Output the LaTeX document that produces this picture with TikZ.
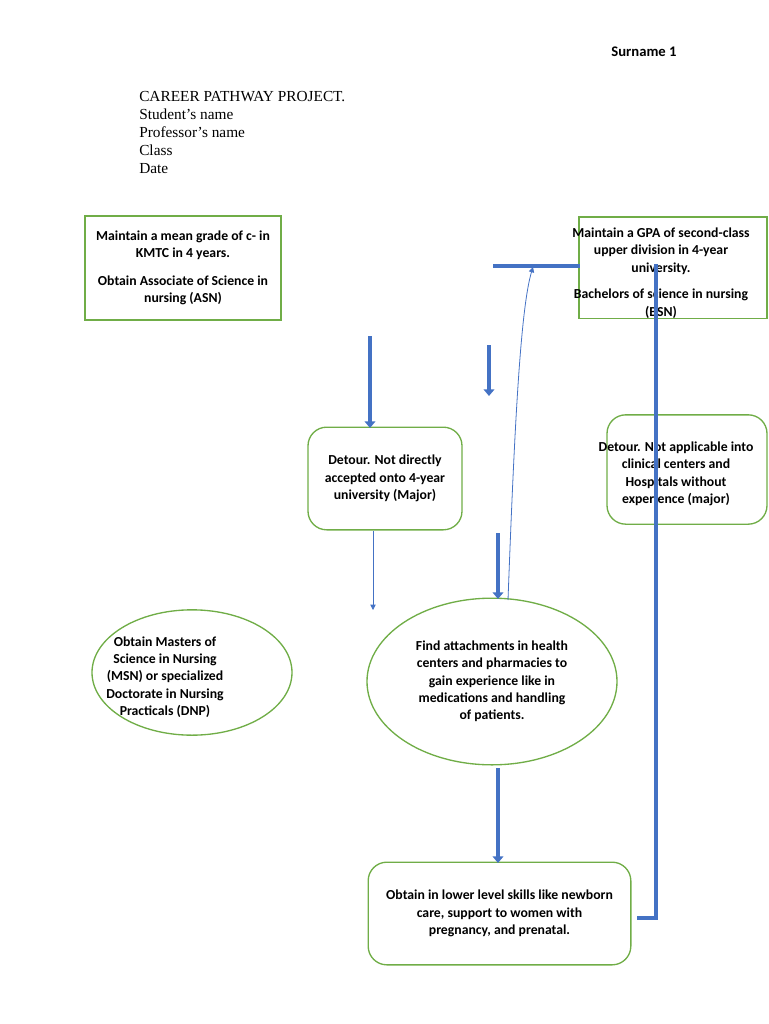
\documentclass[tikz,border=0pt]{standalone}
\usepackage{fontspec}
\setmainfont{Liberation Serif}
\newfontfamily\calibri{Carlito}
\usetikzlibrary{positioning}
\usetikzlibrary{shapes.geometric}
\usetikzlibrary{arrows.meta}
\definecolor{boxgreen}{RGB}{112,173,71}
\definecolor{arrowblue}{RGB}{68,114,196}

\begin{document}
\begin{tikzpicture}[x=0.75pt, y=-0.75pt,
  caja/.style={draw=boxgreen, line width=1pt, inner sep=0pt},
  redonda/.style={caja, rounded corners=14pt},
  elipse/.style={caja, ellipse},
  texto/.style={font=\calibri\bfseries\fontsize{10.3}{13}\selectfont, align=center, inner sep=0pt},
  gruesa/.style={draw=arrowblue, line width=3pt, -{Triangle[width=8pt,length=5pt]}},
  fina/.style={draw=arrowblue, line width=0.6pt, -{Triangle[width=4pt,length=4pt]}},
  barra/.style={draw=arrowblue, line width=3pt}]
            \useasboundingbox (0,0) rectangle (768,1024);
            % Nodos
            \node[font=\calibri\bfseries\fontsize{11}{13}\selectfont] (pagina) at (644,52) {Surname 1};
            \node[font=\fontsize{11.5}{13.5}\selectfont, align=left, anchor=north west, inner sep=0pt] (cabecera) at (139,91) {CAREER PATHWAY PROJECT.\\Student's name\\Professor's name\\Class\\Date};
            \node[caja, minimum width=147pt, minimum height=78pt, texto] (asn) at (183,268) {Maintain a mean grade of c- in\\KMTC in 4 years.\\[8pt]Obtain Associate of Science in\\nursing (ASN)};
            \node[caja, minimum width=141pt, minimum height=76pt] (bsn) at (673,267.5) {};
            \node[texto] (bsn-t) at (661,273) {Maintain a GPA of second-class\\upper division in 4-year\\university.\\[7pt]Bachelors of science in nursing\\(BSN)};
            \node[redonda, minimum width=115.5pt, minimum height=77pt, texto] (det1) at (385,478.5) {Detour. Not directly\\accepted onto 4-year\\university (Major)};
            \node[redonda, minimum width=120pt, minimum height=82pt] (det2) at (687,469.5) {};
            \node[texto] (det2-t) at (676,474) {Detour. Not applicable into\\clinical centers and\\Hospitals without\\experience (major)};
            \node[elipse, minimum width=150pt, minimum height=94pt] (msn) at (192,672.5) {};
            \node[texto] (msn-t) at (165,677) {Obtain Masters of\\Science in Nursing\\(MSN) or specialized\\Doctorate in Nursing\\Practicals (DNP)};
            \node[elipse, minimum width=187.5pt, minimum height=125pt, texto] (att) at (492,681.5) {Find attachments in health\\centers and pharmacies to\\gain experience like in\\medications and handling\\of patients.};
            \node[redonda, minimum width=197pt, minimum height=77pt, texto] (skills) at (499.5,913.5) {Obtain in lower level skills like newborn\\care, support to women with\\pregnancy, and prenatal.};

            % Puntos
            \coordinate (a1) at (370,336);
            \coordinate (b1) at (370,428);
            \coordinate (a2) at (489,345);
            \coordinate (b2) at (489,396);
            \coordinate (a3) at (498,533);
            \coordinate (b3) at (498,599);
            \coordinate (a4) at (498,768);
            \coordinate (b4) at (498,863);
            \coordinate (a5) at (373,531);
            \coordinate (b5) at (373,610);
            \coordinate (c1) at (508,600);
            \coordinate (c2) at (533,267);
            \coordinate (h1) at (493,266);
            \coordinate (h2) at (580,266);
            \coordinate (v1) at (656,264);
            \coordinate (v2) at (656,918);
            \coordinate (v3) at (637,918);

            % Aristas
            \draw[gruesa] (a1) -- (b1);
            \draw[gruesa] (a2) -- (b2);
            \draw[gruesa] (a3) -- (b3);
            \draw[gruesa] (a4) -- (b4);
            \draw[fina] (a5) -- (b5);
            \draw[fina] (c1) .. controls (514,440) and (520,310) .. (c2);
            \draw[barra] (h1) -- (h2);
            \draw[barra] (v1) -- (v2) -- (v3);
          \end{tikzpicture}
\end{document}
